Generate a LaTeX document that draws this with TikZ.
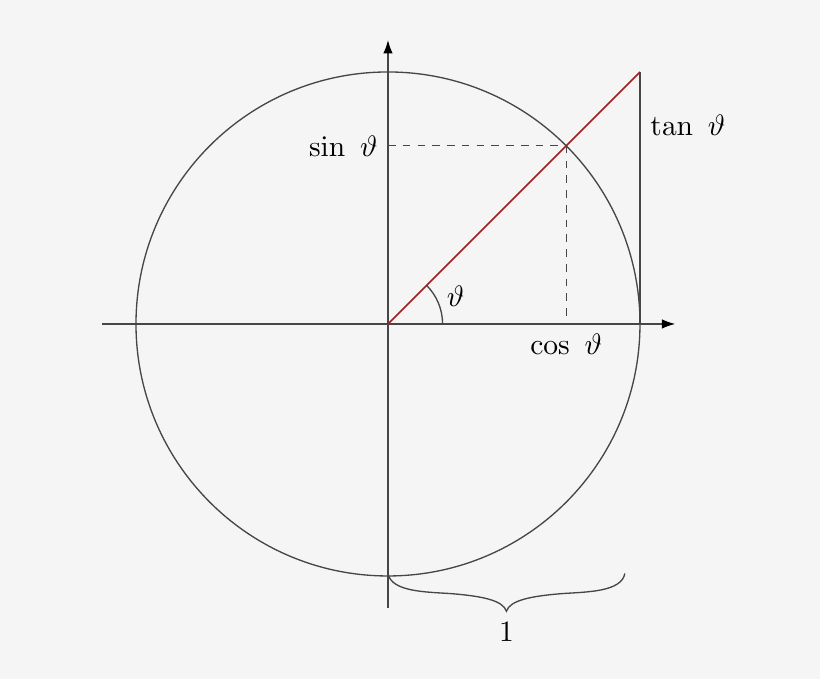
\documentclass[tikz,border=0pt]{standalone}
\usepackage{amsmath}
\usepackage{amssymb}
\usepackage{tikz}
\usetikzlibrary{arrows}
\usetikzlibrary{arrows.meta}
\usetikzlibrary{calc}
\definecolor{paper}{RGB}{245,245,245}
\definecolor{ink}{RGB}{70,70,70}
\definecolor{radiuscol}{RGB}{160,30,30}
\tikzset{
  >=latex,
  % Common styles for the unit circle
  thin line/.style={draw=ink, line width=0.45pt},
  axis/.style={thin line, -{Latex[length=4.5pt, width=3.2pt, black]}},
  guide/.style={thin line, dash pattern=on 2.6pt off 2.4pt},
  radiusline/.style={draw=radiuscol, line width=0.5pt}
}

\begin{document}
\begin{tikzpicture}
        % Background and bounds
        \fill[paper] (-4.619,-4.226) rectangle (5.143,3.857);

        % Define points
        \coordinate (O) at (0,0);
        \coordinate (P) at (45:3);
        \coordinate (A) at (3,0);
        \coordinate (T) at (3,3);
        \coordinate (B) at (0,-2.97);
        \coordinate (C) at (2.82,-2.97);
        \coordinate (tip) at (1.41,-3.42);
        \coordinate (xmin) at (-3.4,0);
        \coordinate (xmax) at (3.42,0);
        \coordinate (ymin) at (0,-3.38);
        \coordinate (ymax) at (0,3.38);

        % Circle and axes
        \path [thin line] (O) circle (3);
        \path [axis] (xmin) -- (xmax);
        \path [axis] (ymin) -- (ymax);

        % Radius, tangent and projections
        \path [radiusline] (O) -- (T);
        \path [thin line] (A) -- (T);
        \path [guide] (O |- P) -- (P);
        \path [guide] (P) -- (P |- O);
        \path [thin line] (0.65,0) arc (0:45:0.65);

        % Labels
        \node (theta) at (22.5:0.87) {$\vartheta$};
        \node[left] (sinlbl) at (O |- P) {$\sin\ \vartheta$};
        \node[below] (coslbl) at (P |- O) {$\cos\ \vartheta$};
        \node[right] (tanlbl) at (3,2.36) {$\tan\ \vartheta$};

        % Brace for the radius
        \path [thin line] (B) .. controls (0.04,-3.19) and (0.45,-3.19) .. (0.75,-3.21)
              .. controls (1.12,-3.24) and (1.37,-3.29) .. (tip)
              .. controls (1.45,-3.29) and (1.70,-3.24) .. (2.07,-3.21)
              .. controls (2.37,-3.19) and (2.78,-3.19) .. (C);
        \node (one) at ($(tip)+(0,-0.25)$) {$1$};
    \end{tikzpicture}
\end{document}
